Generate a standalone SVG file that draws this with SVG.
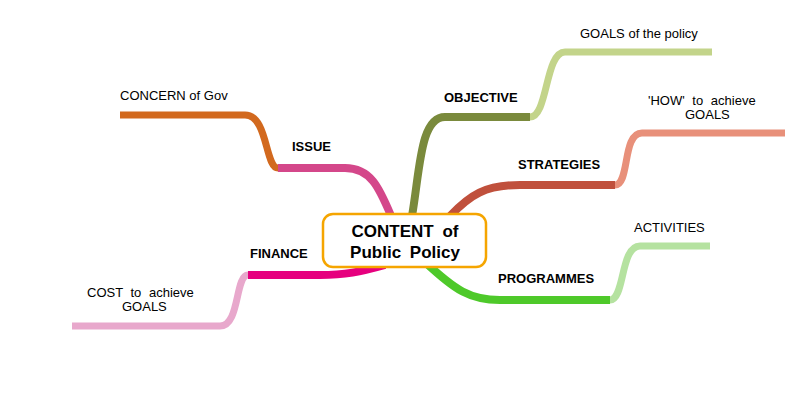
<svg xmlns="http://www.w3.org/2000/svg" width="810" height="400" viewBox="0 0 810 400">
<style>
.c{fill:none;stroke-linecap:butt}
.m{stroke-width:8}
.s{stroke-width:7}
.t{font-family:"Liberation Sans",Arial,sans-serif;font-size:13px;fill:#000}
.b{font-weight:bold}
</style>
<rect width="810" height="400" fill="#fff"/>
<g id="connectors">
<path class="c m" stroke="#d4478a" d="M392,218 C380,190 372,168 345,168 L278,168"/>
<path class="c s" stroke="#d2691e" d="M278,168 C265,168 268,115 245,115 L120,115"/>
<path class="c m" stroke="#7a8a3c" d="M412,216 C420,170 420,117 445,117 L530,117"/>
<path class="c s" stroke="#c3d48a" d="M530,117 C548,117 545,52 565,52 L712,52"/>
<path class="c m" stroke="#c0503c" d="M450,216 C470,195 485,185 520,185 L615,185"/>
<path class="c s" stroke="#e8907a" d="M615,185 C630,185 622,133 642,133 L785,133"/>
<path class="c m" stroke="#4ec92a" d="M425,262 C455,290 470,300 500,300 L610,300"/>
<path class="c s" stroke="#b5e2a0" d="M610,300 C625,300 620,246 640,246 L710,246"/>
<path class="c m" stroke="#e6007e" d="M385,265 C360,272 345,275 320,275 L248,275"/>
<path class="c s" stroke="#e8a8cc" d="M248,275 C235,275 240,326 220,326 L72,326"/>
</g>
<g id="center">
<rect x="323" y="214" width="163" height="53" rx="10" fill="#fff" stroke="#f5a500" stroke-width="2.5"/>
<text class="t b" x="405" y="237" text-anchor="middle" font-size="17" style="font-size:17px;word-spacing:4px">CONTENT of</text>
<text class="t b" x="405" y="258" text-anchor="middle" style="font-size:17px;word-spacing:4px">Public Policy</text>
</g>
<g id="issue"><text class="t b" x="292" y="151">ISSUE</text></g>
<g id="concern"><text class="t" x="120" y="100">CONCERN of Gov</text></g>
<g id="objective"><text class="t b" x="444" y="102">OBJECTIVE</text></g>
<g id="goals"><text class="t" x="580" y="38">GOALS of the policy</text></g>
<g id="strategies"><text class="t b" x="518" y="169">STRATEGIES</text></g>
<g id="how"><text class="t" x="648" y="105" style="word-spacing:4px">'HOW' to achieve</text><text class="t" x="685" y="119">GOALS</text></g>
<g id="programmes"><text class="t b" x="498" y="283">PROGRAMMES</text></g>
<g id="activities"><text class="t" x="634" y="232">ACTIVITIES</text></g>
<g id="finance"><text class="t b" x="250" y="258">FINANCE</text></g>
<g id="cost"><text class="t" x="87" y="297" style="word-spacing:4px">COST to achieve</text><text class="t" x="122" y="311">GOALS</text></g>
</svg>
